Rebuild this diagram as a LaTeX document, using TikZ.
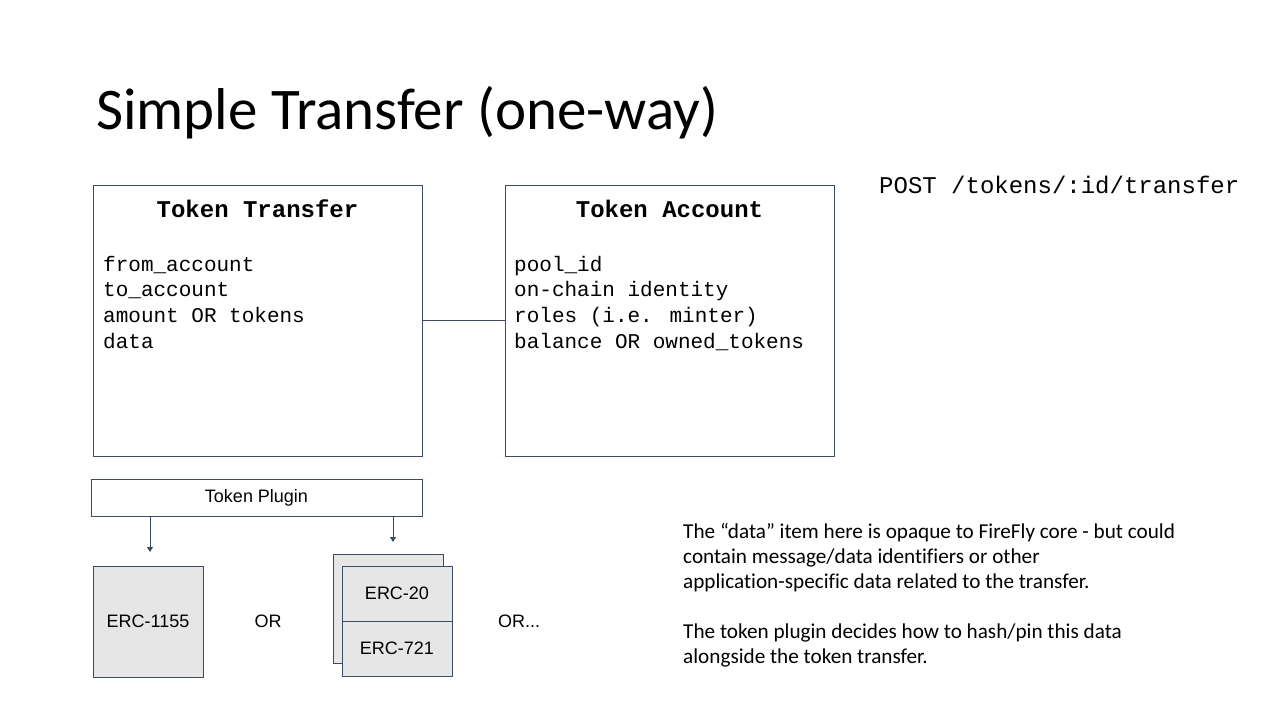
\documentclass[tikz,border=0pt]{standalone}
\usepackage{fontspec}
\setmainfont[Ligatures=NoCommon]{Carlito}
\newfontfamily\monof{Liberation Mono}
\newfontfamily\arialf{Liberation Sans}
\usetikzlibrary{arrows.meta}
\definecolor{edge}{HTML}{3D4B63}
\definecolor{boxfill}{HTML}{E6E6E6}
\tikzset{
  entity/.style={draw=edge, line width=1pt, minimum width=329pt, minimum height=271pt, inner sep=0pt},
  ercbox/.style={draw=edge, line width=1pt, fill=boxfill, inner sep=0pt, font=\arialf\fontsize{18}{20}\selectfont},
  plainlbl/.style={inner sep=0pt, font=\arialf\fontsize{18}{20}\selectfont},
  monotxt/.style={inner sep=0pt, anchor=base west, font=\monof\fontsize{21}{25}\selectfont},
  monohead/.style={inner sep=0pt, anchor=base, font=\monof\bfseries\fontsize{24}{28}\selectfont},
  para/.style={inner sep=0pt, anchor=base west, font=\fontsize{21.2}{25}\selectfont},
  link/.style={draw=edge, line width=1pt},
  arr/.style={draw=edge, line width=1pt, -{Triangle[width=6pt,length=5pt]}}
}
\begin{document}
\begin{tikzpicture}[x=1pt,y=-1pt]
\useasboundingbox (0,0) rectangle (1280,720);
% title
\node[inner sep=0pt, anchor=base west, font=\fontsize{59}{64}\selectfont] (title) at (96,129) {Simple Transfer (one-way)};
% endpoint
\node[inner sep=0pt, anchor=base west, font=\monof\fontsize{24}{28}\selectfont] (post) at (879,193) {POST /tokens/:id/transfer};
% entity boxes
\node[entity] (tt) at (257.5,320.5) {};
\node[entity] (ta) at (669.5,320.5) {};
\draw[link] (tt.east) -- (ta.west);
\node[monohead] (tth) at (257.5,217) {Token Transfer};
\node[monohead] (tah) at (669.5,217) {Token Account};
\node[monotxt] (tt1) at (103,271) {from\_account};
\node[monotxt] (tt2) at (103,296.7) {to\_account};
\node[monotxt] (tt3) at (103,322.4) {amount OR tokens};
\node[monotxt] (tt4) at (103,348) {data};
\node[monotxt] (ta1) at (514,271) {pool\_id};
\node[monotxt] (ta2) at (514,296.7) {on-chain identity};
\node[monotxt] (ta3) at (514,322.4) {roles (i.e. minter)};
\node[monotxt] (ta4) at (514,348) {balance OR owned\_tokens};
% plugin
\node[draw=edge, line width=1pt, minimum width=331pt, minimum height=37pt, inner sep=0pt, font=\arialf\fontsize{18}{20}\selectfont] (plugin) at (256.5,497.5) {Token Plugin};
\coordinate (a1end) at (150,552);
\coordinate (a2end) at (393,542);
\draw[arr] (plugin.south -| a1end) -- (a1end);
\draw[arr] (plugin.south -| a2end) -- (a2end);
% ERC boxes
\node[ercbox, minimum width=110pt, minimum height=111pt] (erc1155) at (148,621.5) {ERC-1155};
\node[ercbox, minimum width=110pt, minimum height=109pt] (ercback) at (388,608.5) {};
\node[ercbox, minimum width=110pt, minimum height=55pt] (erc20) at (397,593.5) {ERC-20};
\node[ercbox, minimum width=110pt, minimum height=55pt] (erc721) at (397,648.5) {ERC-721};
\node[plainlbl] (or1) at (268,621) {OR};
\node[plainlbl] (or2) at (519,621) {OR...};
% notes
\node[para] (n1) at (683,538) {The “data” item here is opaque to FireFly core - but could};
\node[para] (n2) at (683,563) {contain message/data identifiers or other};
\node[para] (n3) at (683,588) {application-specific data related to the transfer.};
\node[para] (n4) at (683,638) {The token plugin decides how to hash/pin this data};
\node[para] (n5) at (683,663) {alongside the token transfer.};
\end{tikzpicture}
\end{document}
